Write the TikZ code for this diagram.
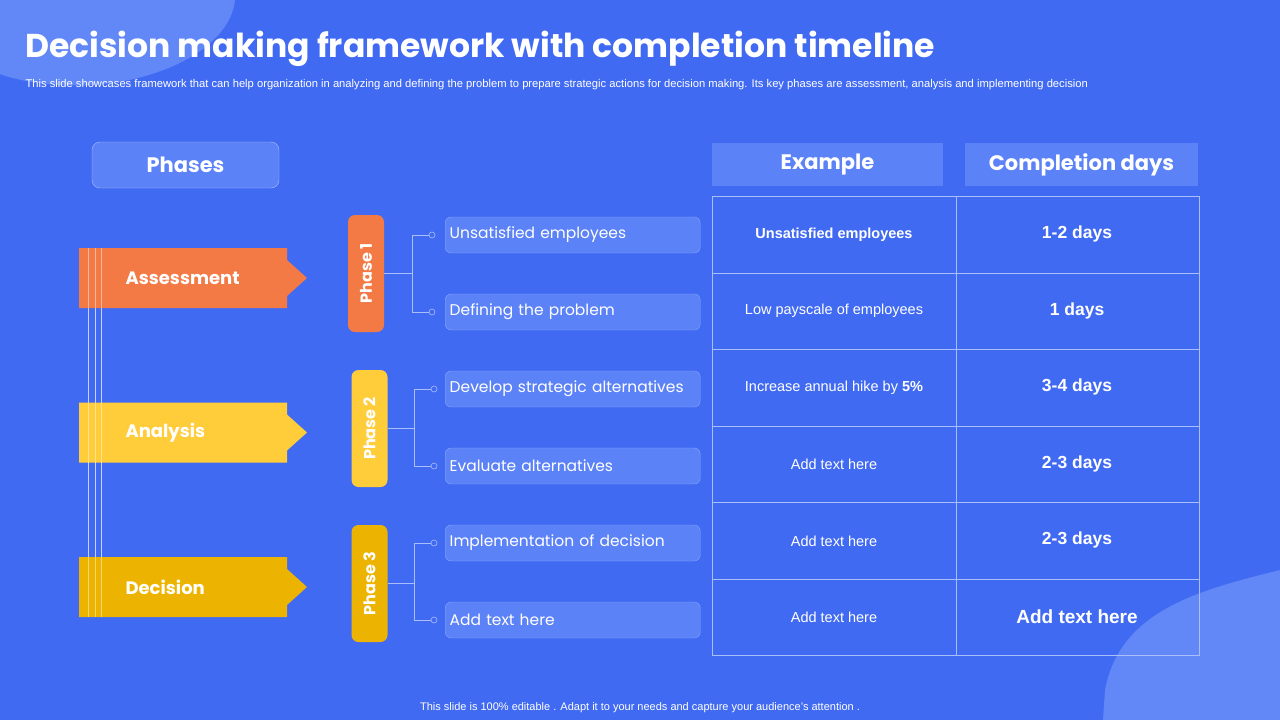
\documentclass[tikz,border=0pt]{standalone}
\usepackage{fontspec}
\usepackage{graphicx}
\setmainfont{Liberation Sans}
\newfontfamily\pop{Poppins}
\definecolor{bg}{RGB}{65,106,242}
\definecolor{lite}{RGB}{92,130,247}
\definecolor{blob}{RGB}{98,136,248}
\definecolor{org}{RGB}{244,122,69}
\definecolor{yel}{RGB}{255,204,58}
\definecolor{dyel}{RGB}{236,180,0}
\definecolor{lnc}{RGB}{170,190,250}
\begin{document}
\begin{tikzpicture}[x=1pt,y=-1pt,
 item/.style={draw=lnc!60!lite,fill=lite,rounded corners=6pt,minimum width=255pt,minimum height=36pt,anchor=west,text=white,font=\pop\fontsize{15.5}{18}\selectfont,text width=246pt,inner xsep=4.5pt,align=left},
 pill/.style={rounded corners=7pt,minimum width=36pt,minimum height=117pt,inner sep=0pt,text=white,font=\pop\bfseries\fontsize{16}{18}\selectfont},
 cell/.style={text=white,font=\fontsize{14.5}{17}\selectfont},
 dcell/.style={text=white,font=\bfseries\fontsize{17.5}{20}\selectfont},
 conn/.style={draw=lnc,line width=0.6pt},
 hdr/.style={fill=lite,text=white,font=\pop\bfseries\fontsize{21}{24}\selectfont}]
\useasboundingbox (0,0) rectangle (1280,720);
\fill[bg] (0,0) rectangle (1280,720);
\fill[blob] (0,0) -- (235,0) .. controls (230,50) and (150,90) .. (60,85) .. controls (30,83) and (10,78) .. (0,74) -- cycle;
\fill[blob] (1280,570) .. controls (1200,590) and (1120,610) .. (1105,690) -- (1103,720) -- (1280,720) -- cycle;
\node[anchor=west,text=white,font=\pop\bfseries\fontsize{33}{38}\selectfont] (title) at (22,49) {Decision making framework with completion timeline};
\node[anchor=west,text=white,font=\fontsize{11.2}{13}\selectfont] (sub) at (22,85) {This slide showcases framework that can help organization in analyzing and defining the problem to prepare strategic actions for decision making. Its key phases are assessment, analysis and implementing decision};
\node[text=white,font=\fontsize{11}{13}\selectfont] (foot) at (640,708) {This slide is 100\% editable . Adapt it to your needs and capture your audience's attention .};
\node[draw=lnc,fill=lite,rounded corners=8pt,minimum width=187pt,minimum height=46pt,text=white,font=\pop\bfseries\fontsize{21}{24}\selectfont] (ph) at (185.5,165) {Phases};
\foreach \x in {88,95,101} \draw[white!70!bg,line width=0.6pt] (\x,248) -- (\x,617);
\foreach \n/\c/\y/\t in {a/org/278/Assessment,b/yel/432.5/Analysis,c/dyel/587/Decision}{
 \fill[\c] (79,\y-30) -- (287,\y-30) -- (287,\y-18) -- (307,\y) -- (287,\y+18) -- (287,\y+30) -- (79,\y+30) -- cycle;
 \foreach \x in {88,95,101} \draw[white!45!\c,line width=0.6pt] (\x,\y-30) -- (\x,\y+30);
 \node[anchor=west,text=white,font=\pop\bfseries\fontsize{18}{20}\selectfont] (\n) at (122,\y) {\t};
}
\node[pill,fill=org] (p1) at (366,273.5) {\rotatebox{90}{Phase 1}};
\node[pill,fill=yel] (p2) at (369.5,428.5) {\rotatebox{90}{Phase 2}};
\node[pill,fill=dyel] (p3) at (369.5,583.5) {\rotatebox{90}{Phase 3}};
\node[item] (i1) at (445,235) {Unsatisfied employees};
\node[item] (i2) at (445,312) {Defining the problem};
\node[item] (i3) at (445,389) {Develop strategic alternatives};
\node[item] (i4) at (445,466) {Evaluate alternatives};
\node[item] (i5) at (445,543) {Implementation of decision};
\node[item] (i6) at (445,620) {Add text here};
\foreach \p/\u/\d/\jx in {p1/i1/i2/412,p2/i3/i4/414,p3/i5/i6/414}{
 \coordinate (j) at (\jx,0);
 \draw[conn] (\p.east) -- (j |- \p.east);
 \draw[conn] (j |- \u.west) -- (j |- \d.west);
 \draw[conn] (j |- \u.west) -- ++(17,0) coordinate (cu);
 \draw[conn] (j |- \d.west) -- ++(17,0) coordinate (cd);
 \draw[conn,fill=bg] (cu) ++(3,0) circle (3);
 \draw[conn,fill=bg] (cd) ++(3,0) circle (3);
}
\node[hdr,minimum width=231pt,minimum height=43pt] (h1) at (827.5,164.5) {Example};
\node[hdr,minimum width=233pt,minimum height=43pt] (h2) at (1081.5,164.5) {Completion days};
\draw[lnc,line width=0.8pt] (712,196) rectangle (1199,655);
\draw[lnc,line width=0.8pt] (956,196) -- (956,655);
\foreach \y in {273,349,426,502,579} \draw[lnc,line width=0.8pt] (712,\y) -- (1199,\y);
\node[cell,font=\bfseries\fontsize{14.5}{17}\selectfont] (e1) at (834,235) {Unsatisfied employees};
\node[cell] (e2) at (834,311) {Low payscale of employees};
\node[cell] (e3) at (834,388) {Increase annual hike by \textbf{5\%}};
\node[cell] (e4) at (834,464) {Add text here};
\node[cell] (e5) at (834,541) {Add text here};
\node[cell] (e6) at (834,617) {Add text here};
\node[dcell] (d1) at (1077,234) {1-2 days};
\node[dcell] (d2) at (1077,311) {1 days};
\node[dcell] (d3) at (1077,387) {3-4 days};
\node[dcell] (d4) at (1077,464) {2-3 days};
\node[dcell] (d5) at (1077,540) {2-3 days};
\node[dcell,font=\bfseries\fontsize{19}{21}\selectfont] (d6) at (1077,617) {Add text here};
\end{tikzpicture}
\end{document}
